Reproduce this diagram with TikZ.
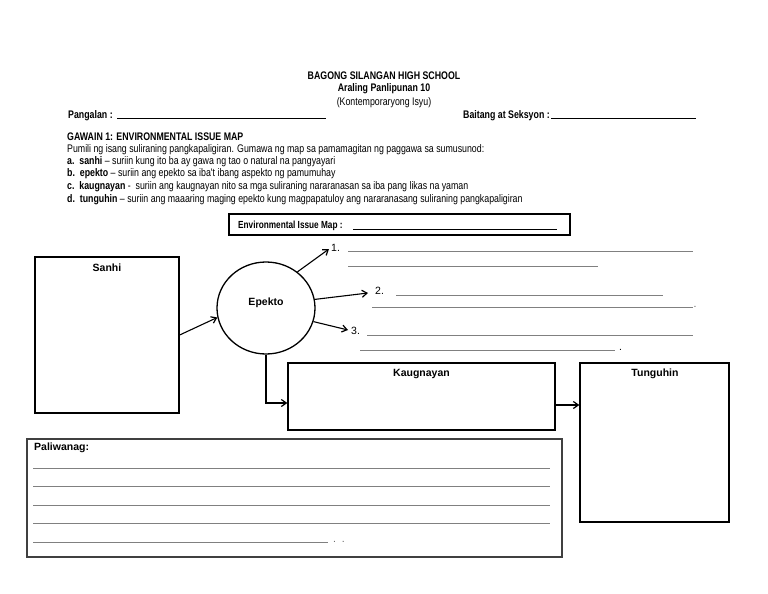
\documentclass[tikz,border=0pt]{standalone}
\usepackage{fontspec}
\setmainfont{Liberation Sans}
\newfontfamily\narrow[FakeStretch=0.80]{Liberation Sans}
\usetikzlibrary{arrows.meta,shapes.geometric}
\begin{document}
\begin{tikzpicture}[x=1pt,y=-1pt,
  box/.style={draw, line width=1.3pt, inner sep=0pt},
  wline/.style={draw=black!50, line width=0.8pt},
  uline/.style={draw, line width=0.6pt},
  arr/.style={line width=1.1pt, -{Straight Barb[length=5pt,width=7pt,line width=1.2pt]}},
  nreg/.style={font=\narrow\fontsize{11}{12}\selectfont, inner sep=0pt},
  nbold/.style={font=\narrow\bfseries\fontsize{11}{12}\selectfont, inner sep=0pt},
  lbl/.style={font=\bfseries\fontsize{10.5}{12}\selectfont, inner sep=0pt},
  num/.style={font=\fontsize{10.5}{12}\selectfont, inner sep=0pt, anchor=base west}
]
\useasboundingbox[fill=white] (0,0) rectangle (768,594);

% header
\node[nbold, anchor=base] (title) at (384,80) {BAGONG SILANGAN HIGH SCHOOL};
\node[nbold, anchor=base] (subj) at (384,92) {Araling Panlipunan 10};
\node[nreg, anchor=base] (sub2) at (384,105) {(Kontemporaryong Isyu)};
\node[nbold, anchor=base west] (pang) at (68,118) {Pangalan :};
\coordinate (pu1) at (117,118);
\coordinate (pu2) at (326,118);
\draw[uline] (pu1) -- (pu2);
\node[nbold, anchor=base west] (bait) at (463,118) {Baitang at Seksyon :};
\coordinate (bu1) at (551,118);
\coordinate (bu2) at (696,118);
\draw[uline] (bu1) -- (bu2);

\node[nbold, anchor=base west] (gaw) at (67,140) {GAWAIN 1: ENVIRONMENTAL ISSUE MAP};
\node[nreg, anchor=base west] (pum) at (67,152) {Pumili ng isang suliraning pangkapaligiran. Gumawa ng map sa pamamagitan ng paggawa sa sumusunod:};
\node[nreg, anchor=base west] (ia) at (67,164) {\textbf{a.}\ \ \textbf{sanhi} – suriin kung ito ba ay gawa ng tao o natural na pangyayari};
\node[nreg, anchor=base west] (ib) at (67,176) {\textbf{b.}\ \ \textbf{epekto} – suriin ang epekto sa iba't ibang aspekto ng pamumuhay};
\node[nreg, anchor=base west] (ic) at (67,189) {\textbf{c.}\ \ \textbf{kaugnayan} -\ \ suriin ang kaugnayan nito sa mga suliraning nararanasan sa iba pang likas na yaman};
\node[nreg, anchor=base west] (id) at (67,202) {\textbf{d.}\ \ \textbf{tunguhin} – suriin ang maaaring maging epekto kung magpapatuloy ang nararanasang suliraning pangkapaligiran};

% environmental issue map box
\node[box, minimum width=341pt, minimum height=21pt] (env) at (399.5,224.5) {};
\node[font=\narrow\bfseries\fontsize{10.3}{12}\selectfont, inner sep=0pt, anchor=base west] (envt) at (238,228) {Environmental Issue Map :};
\coordinate (eu1) at (353,229);
\coordinate (eu2) at (557,229);
\draw[uline] (eu1) -- (eu2);

% boxes
\node[box, minimum width=144pt, minimum height=156pt] (sanhi) at (107,335) {};
\node[lbl] (sanhit) at (107,268) {Sanhi};
\node[box, ellipse, minimum width=98pt, minimum height=92pt] (epekto) at (266,308) {};
\node[lbl] (epektot) at (266,303) {Epekto};
\node[box, minimum width=267pt, minimum height=67pt] (kaug) at (421.5,396.5) {};
\node[lbl] (kaugt) at (421.5,374) {Kaugnayan};
\node[box, minimum width=149pt, minimum height=159pt] (tung) at (654.5,442.5) {};
\node[lbl] (tungt) at (655,374) {Tunguhin};

% arrows
\draw[arr] (sanhi.east) -- (epekto.191);
\coordinate (t1) at (329,249);
\coordinate (t2) at (368,293);
\coordinate (t3) at (348,330);
\draw[arr] (epekto.49) -- (t1);
\draw[arr] (epekto.10) -- (t2);
\draw[arr] (epekto.344) -- (t3);
\draw[arr] (epekto.south) |- ([yshift=-6.5pt]kaug.west);
\coordinate (k2) at ([yshift=-8.5pt]kaug.east);
\draw[arr] (k2) -- (k2 -| tung.west);

% effect answer lines
\node[num] (n1) at (331,251) {1.};
\node[num] (n2) at (375,294) {2.};
\node[num] (n3) at (351,334.5) {3.};
\coordinate (a1) at (348,251); \coordinate (a2) at (693,251);
\coordinate (a3) at (348,266); \coordinate (a4) at (598,266);
\coordinate (b1) at (396,295); \coordinate (b2) at (663,295);
\coordinate (b3) at (372,307); \coordinate (b4) at (693,307);
\coordinate (c1) at (367,335); \coordinate (c2) at (693,335);
\coordinate (c3) at (360,350); \coordinate (c4) at (615,350);
\draw[wline] (a1) -- (a2);
\draw[wline] (a3) -- (a4);
\draw[wline] (b1) -- (b2);
\draw[wline] (b3) -- (b4);
\draw[wline] (c1) -- (c2);
\draw[wline] (c3) -- (c4);
\node[num, text=black!60] (d2) at (693.5,307.5) {.};
\node[num] (d3) at (619,350.5) {.};

% paliwanag
\node[box, draw=black!75, minimum width=535pt, minimum height=118pt] (pal) at (294.5,498) {};
\node[lbl, anchor=west] (palt) at (34,448) {Paliwanag:};
\coordinate (p1) at (33,468); \coordinate (q1) at (550,468);
\coordinate (p2) at (33,486); \coordinate (q2) at (550,486);
\coordinate (p3) at (33,505); \coordinate (q3) at (550,505);
\coordinate (p4) at (33,523); \coordinate (q4) at (550,523);
\coordinate (p5) at (33,542); \coordinate (q5) at (328,542);
\draw[wline] (p1) -- (q1);
\draw[wline] (p2) -- (q2);
\draw[wline] (p3) -- (q3);
\draw[wline] (p4) -- (q4);
\draw[wline] (p5) -- (q5);
\node[num, text=black!60] (pd) at (333,542.5) {.\ \ .};
\end{tikzpicture}
\end{document}
